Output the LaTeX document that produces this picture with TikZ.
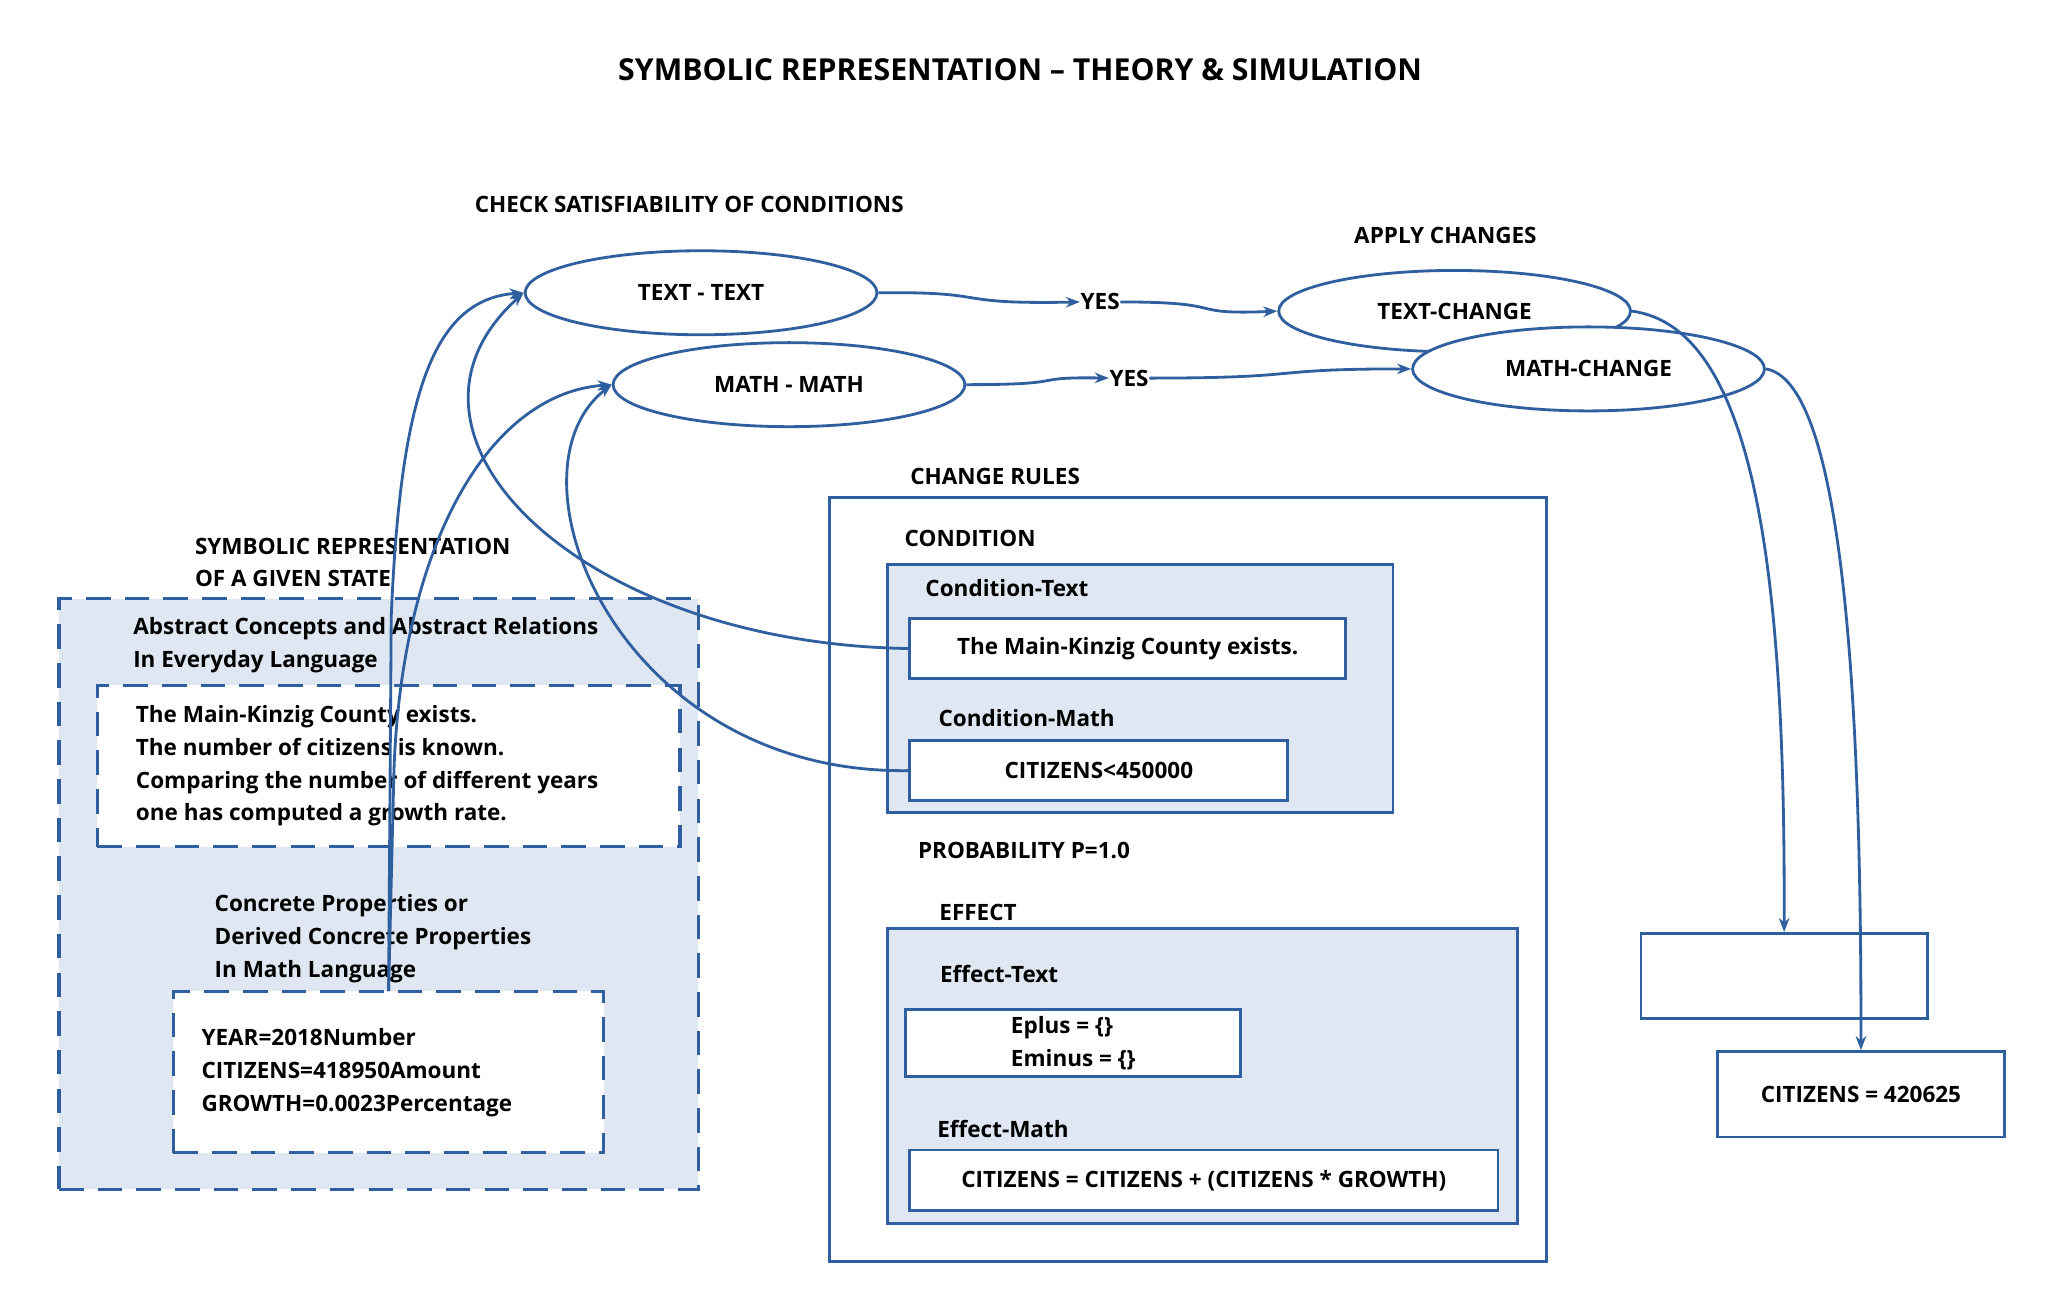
\documentclass[tikz,border=0pt]{standalone}
\usepackage{fontspec}
\setmainfont{Open Sans}
\usetikzlibrary{shapes.geometric,arrows.meta}
\definecolor{ln}{HTML}{2F5F9F}
\definecolor{lb}{HTML}{DEE7F2}
\begin{document}
\begin{tikzpicture}[x=0.01313cm,y=-0.01313cm,
 every node/.style={font=\fontsize{6.4}{9.3}\selectfont\bfseries,inner sep=0pt},
 el/.style={draw=ln,line width=0.8pt,ellipse,fill=white},
 bx/.style={draw=ln,line width=0.8pt,fill=white},
 con/.style={draw=ln,line width=0.8pt,-{Stealth[length=4pt,width=3pt]}},
 lab/.style={align=left,anchor=west}]
\useasboundingbox (0,0) rectangle (1560,983);
\node (title) at (777,53) {\fontsize{8.6}{10}\selectfont\bfseries SYMBOLIC REPRESENTATION -- THEORY \& SIMULATION};
\node (chk) at (525,156) {CHECK SATISFIABILITY OF CONDITIONS};
\node (app) at (1101,179) {APPLY CHANGES};
% change rules
\node (crl) at (758,363) {CHANGE RULES};
\node[bx,minimum width={546*0.01313cm},minimum height={582*0.01313cm}] (cr) at (905,670) {};
\node (cond) at (739,410) {CONDITION};
\node[draw=ln,line width=0.8pt,fill=lb,minimum width={385*0.01313cm},minimum height={189*0.01313cm}] (cb) at (868.5,524.5) {};
\node (ct) at (767,448) {Condition-Text};
\node[bx,minimum width={332*0.01313cm},minimum height={46*0.01313cm}] (ctb) at (859,494) {The Main-Kinzig County exists.};
\node (cm) at (782,547) {Condition-Math};
\node[bx,minimum width={288*0.01313cm},minimum height={46*0.01313cm}] (cmb) at (837,587) {CITIZENS<450000};
\node (prob) at (780,648) {PROBABILITY P=1.0};
\node (eff) at (745,695) {EFFECT};
\node[draw=ln,line width=0.8pt,fill=lb,minimum width={480*0.01313cm},minimum height={225*0.01313cm}] (eb) at (916,819.5) {};
\node (et) at (761,742) {Effect-Text};
\node[bx,minimum width={255*0.01313cm},minimum height={51*0.01313cm},align=left] (etb) at (817.5,794.5) {Eplus = \{\}\\Eminus = \{\}};
\node (em) at (764,860) {Effect-Math};
\node[bx,minimum width={448*0.01313cm},minimum height={46*0.01313cm}] (emb) at (917,899) {CITIZENS = CITIZENS + (CITIZENS * GROWTH)};
% left
\node[lab] (sr) at (148,428.5) {SYMBOLIC REPRESENTATION\\OF A GIVEN STATE};
\node[draw=ln,line width=0.9pt,dash pattern=on 7pt off 4pt,fill=lb,minimum width={487*0.01313cm},minimum height={450*0.01313cm}] (lb) at (288.5,681) {};
\node[lab] (ac) at (101,491.5) {Abstract Concepts and Abstract Relations\\In Everyday Language};
\node[draw=ln,line width=0.9pt,dash pattern=on 7pt off 4pt,fill=white,minimum width={444*0.01313cm},minimum height={123*0.01313cm}] (ab) at (296,583.5) {};
\node[lab] (abt) at (103,583.5) {The Main-Kinzig County exists.\\The number of citizens is known.\\Comparing the number of different years\\one has computed a growth rate.};
\node[lab] (cp) at (163,715) {Concrete Properties or\\Derived Concrete Properties\\In Math Language};
\node[draw=ln,line width=0.9pt,dash pattern=on 7pt off 4pt,fill=white,minimum width={328*0.01313cm},minimum height={123*0.01313cm}] (mb) at (296,816.5) {};
\node[lab] (mbt) at (153,817) {YEAR=2018Number\\CITIZENS=418950Amount\\GROWTH=0.0023Percentage};
% ellipses
\node[el,minimum width={268*0.01313cm},minimum height={64*0.01313cm}] (tt) at (534,223) {TEXT - TEXT};
\node[el,minimum width={268*0.01313cm},minimum height={64*0.01313cm}] (mm) at (601,293) {MATH - MATH};
\node[el,minimum width={268*0.01313cm},minimum height={62*0.01313cm}] (tc) at (1108,237) {TEXT-CHANGE};
\node[el,minimum width={268*0.01313cm},minimum height={64*0.01313cm}] (mc) at (1210,281) {MATH-CHANGE};
\node (y1) at (838,230) {YES};
\node (y2) at (860,288) {YES};
% right boxes
\node[bx,minimum width={218*0.01313cm},minimum height={65*0.01313cm}] (r1) at (1359,743.5) {};
\node[bx,minimum width={219*0.01313cm},minimum height={65*0.01313cm}] (r2) at (1417.5,833.5) {CITIZENS = 420625};
% connectors
\draw[con] (tt.east) .. controls (760,222) and (720,232) .. (y1.west);
\draw[con] (y1.east) .. controls (940,230) and (900,240) .. (tc.west);
\draw[con] (mm.east) .. controls (820,293) and (780,287) .. (y2.west);
\draw[con] (y2.east) .. controls (1000,288) and (960,281) .. (mc.west);
\draw[con] (ctb.west) .. controls (440,490) and (280,330) .. (tt.west);
\draw[con] (cmb.west) .. controls (470,590) and (380,360) .. (mm.west);
\coordinate (src) at (296,755);
\draw[con] (src) -- (298,470) .. controls (305,300) and (330,228) .. (tt.west);
\draw[con] (src) -- (300,590) .. controls (305,420) and (370,300) .. (mm.west);
\draw[con] (tc.east) .. controls (1340,250) and (1360,450) .. (r1.north);
\draw[con] (mc.east) .. controls (1400,290) and (1418,500) .. (r2.north);
\end{tikzpicture}
\end{document}
